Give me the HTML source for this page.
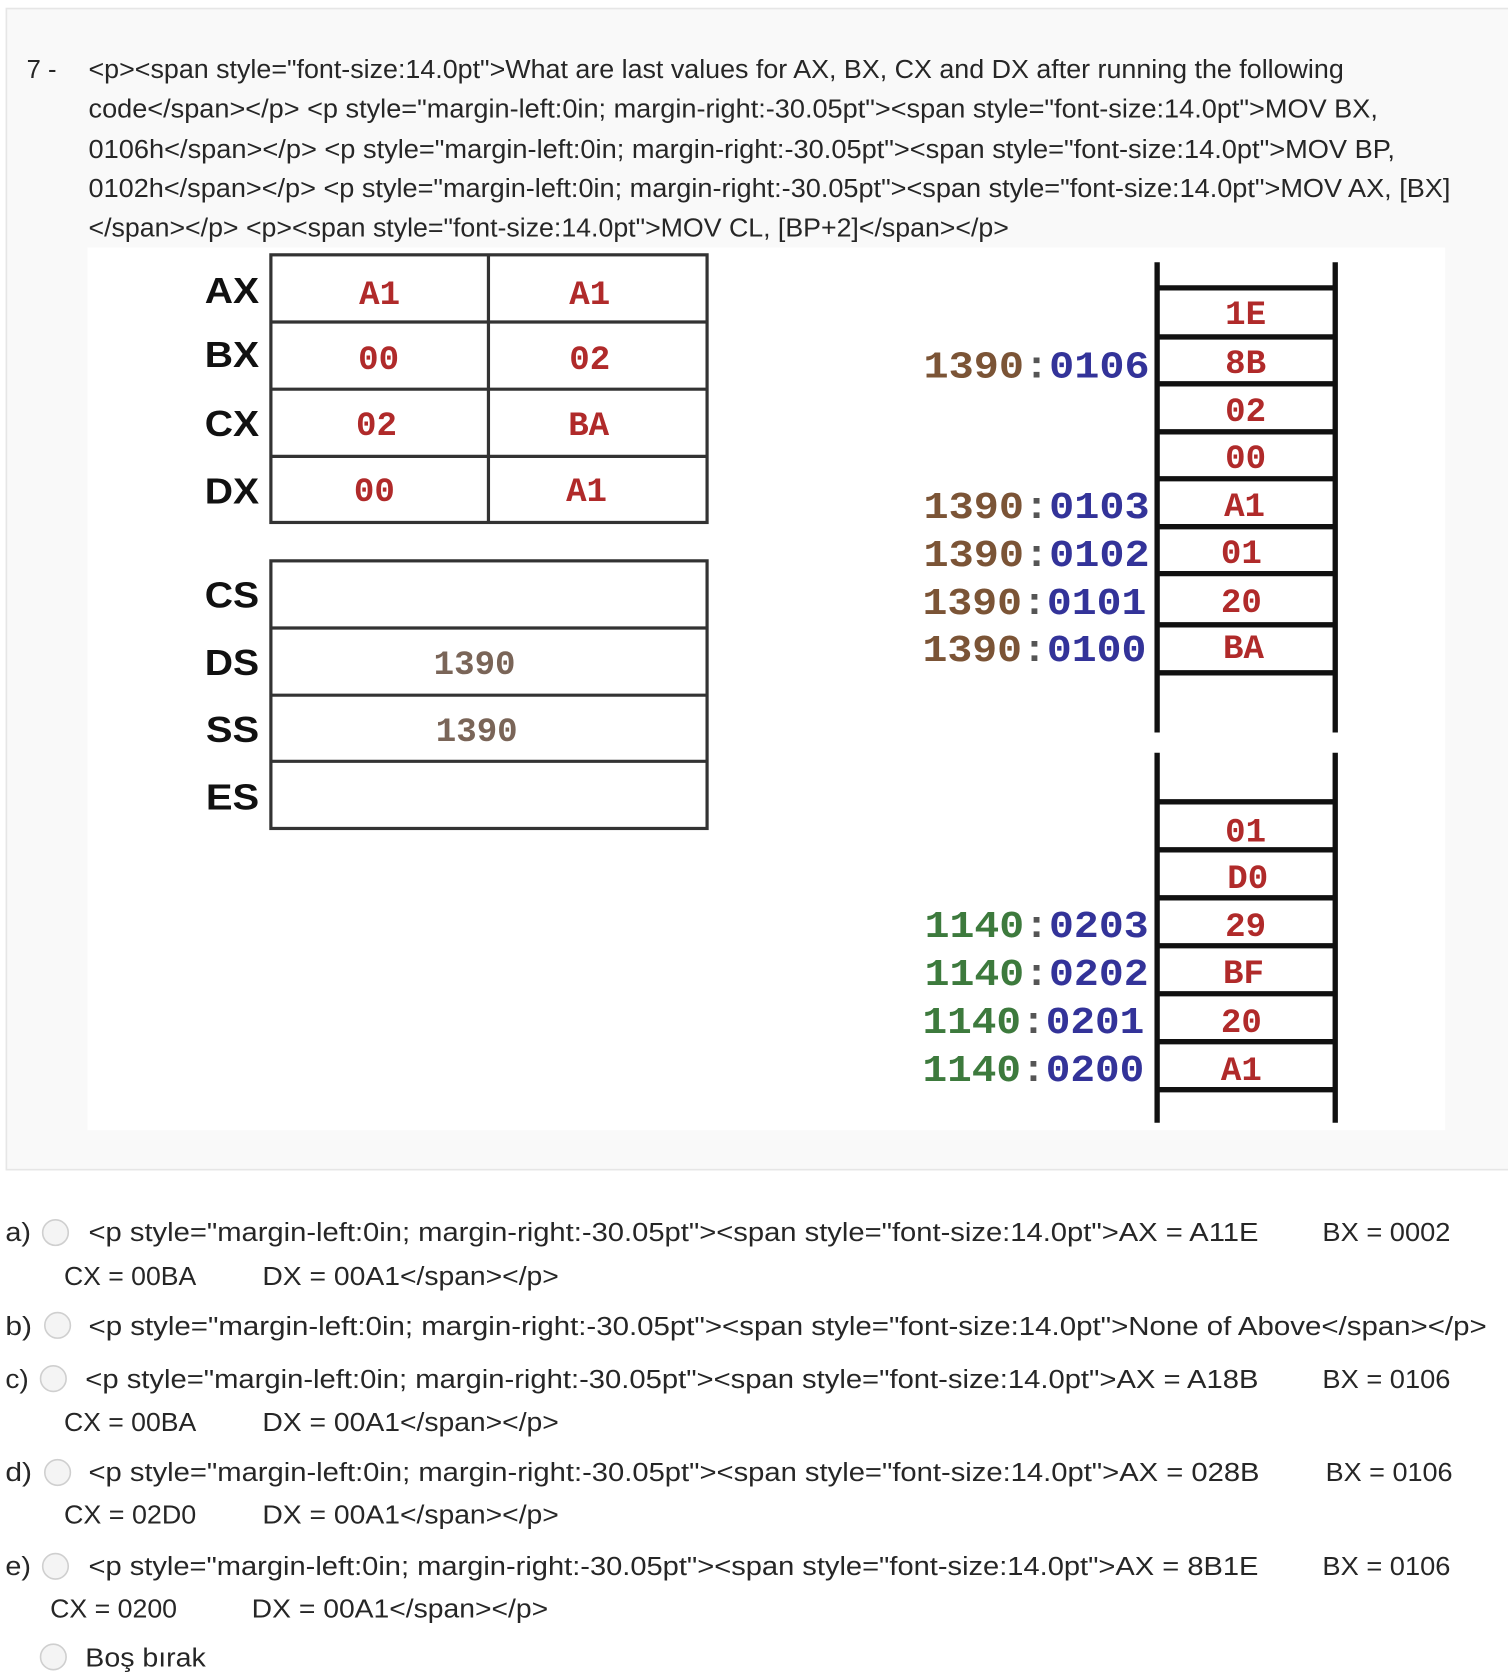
<!DOCTYPE html>
<html><head><meta charset="utf-8"><style>
html,body{margin:0;padding:0;background:#fff;}
svg{display:block}
.t{font-family:"Liberation Sans",sans-serif;font-size:24px;fill:#262626}
.lb{font-family:"Liberation Sans",sans-serif;font-weight:bold;font-size:34px;fill:#111}
.v{font-family:"Liberation Mono",monospace;font-weight:bold;font-size:32px;fill:#b02a2a}
.a{font-family:"Liberation Mono",monospace;font-weight:bold;font-size:36px}
</style></head><body>
<svg width="1508" height="1674" viewBox="0 0 1414 1570" preserveAspectRatio="none" xmlns="http://www.w3.org/2000/svg">
<rect x="6" y="8" width="1420" height="1089" fill="#f9f9f9" stroke="#e6e6e6" stroke-width="1.5"/>
<rect x="82" y="232" width="1273" height="828" fill="#fff"/>

<text class="t" x="25" y="73">7 -</text>
<text class="t" x="83" y="73" textLength="1177" lengthAdjust="spacingAndGlyphs">&lt;p&gt;&lt;span style="font-size:14.0pt"&gt;What are last values for AX, BX, CX and DX after running the following</text>
<text class="t" x="83" y="110" textLength="1209" lengthAdjust="spacingAndGlyphs">code&lt;/span&gt;&lt;/p&gt; &lt;p style="margin-left:0in; margin-right:-30.05pt"&gt;&lt;span style="font-size:14.0pt"&gt;MOV BX,</text>
<text class="t" x="83" y="148" textLength="1225" lengthAdjust="spacingAndGlyphs">0106h&lt;/span&gt;&lt;/p&gt; &lt;p style="margin-left:0in; margin-right:-30.05pt"&gt;&lt;span style="font-size:14.0pt"&gt;MOV BP,</text>
<text class="t" x="83" y="185" textLength="1277" lengthAdjust="spacingAndGlyphs">0102h&lt;/span&gt;&lt;/p&gt; &lt;p style="margin-left:0in; margin-right:-30.05pt"&gt;&lt;span style="font-size:14.0pt"&gt;MOV AX, [BX]</text>
<text class="t" x="83" y="222" textLength="863" lengthAdjust="spacingAndGlyphs">&lt;/span&gt;&lt;/p&gt; &lt;p&gt;&lt;span style="font-size:14.0pt"&gt;MOV CL, [BP+2]&lt;/span&gt;&lt;/p&gt;</text>

<g stroke="#333" stroke-width="3" fill="none">
<rect x="254" y="239" width="409" height="251"/>
<line x1="254" y1="302" x2="663" y2="302"/><line x1="254" y1="365" x2="663" y2="365"/><line x1="254" y1="428" x2="663" y2="428"/>
<line x1="458" y1="239" x2="458" y2="490"/>
<rect x="254" y="526" width="409" height="251"/>
<line x1="254" y1="589" x2="663" y2="589"/><line x1="254" y1="652" x2="663" y2="652"/><line x1="254" y1="714" x2="663" y2="714"/>
</g>
<g class="lb">
<text x="192" y="284" textLength="51" lengthAdjust="spacingAndGlyphs">AX</text><text x="192" y="344" textLength="51" lengthAdjust="spacingAndGlyphs">BX</text><text x="192" y="409" textLength="51" lengthAdjust="spacingAndGlyphs">CX</text><text x="192" y="472" textLength="51" lengthAdjust="spacingAndGlyphs">DX</text>
<text x="192" y="570" textLength="51" lengthAdjust="spacingAndGlyphs">CS</text><text x="192" y="633" textLength="51" lengthAdjust="spacingAndGlyphs">DS</text><text x="193" y="696" textLength="50" lengthAdjust="spacingAndGlyphs">SS</text><text x="193" y="759" textLength="50" lengthAdjust="spacingAndGlyphs">ES</text>
</g>
<g class="v" text-anchor="middle">
<text x="356" y="285">A1</text><text x="553" y="285">A1</text>
<text x="355" y="346">00</text><text x="553" y="346">02</text>
<text x="353" y="408">02</text><text x="552" y="408">BA</text>
<text x="351" y="470">00</text><text x="550" y="470">A1</text>
<text x="445" y="632" style="fill:#7a6558">1390</text>
<text x="447" y="695" style="fill:#7a6558">1390</text>
</g>

<g stroke="#111" stroke-width="5">
<line x1="1085" y1="246" x2="1085" y2="687"/><line x1="1252" y1="246" x2="1252" y2="687"/>
<line x1="1085" y1="270" x2="1252" y2="270"/><line x1="1085" y1="316" x2="1252" y2="316"/>
<line x1="1085" y1="360" x2="1252" y2="360"/><line x1="1085" y1="405" x2="1252" y2="405"/>
<line x1="1085" y1="449" x2="1252" y2="449"/><line x1="1085" y1="494" x2="1252" y2="494"/>
<line x1="1085" y1="538" x2="1252" y2="538"/><line x1="1085" y1="586" x2="1252" y2="586"/>
<line x1="1085" y1="631" x2="1252" y2="631"/>
</g>
<g class="v" text-anchor="middle">
<text x="1168" y="304">1E</text><text x="1168" y="350">8B</text><text x="1168" y="395">02</text><text x="1168" y="439">00</text>
<text x="1167" y="484">A1</text><text x="1164" y="528">01</text><text x="1164" y="574">20</text><text x="1166" y="617">BA</text>
</g>
<g class="a">
<text x="866" y="354" textLength="212" lengthAdjust="spacingAndGlyphs"><tspan fill="#7b5436">1390</tspan><tspan fill="#555">:</tspan><tspan fill="#333399">0106</tspan></text>
<text x="866" y="486" textLength="212" lengthAdjust="spacingAndGlyphs"><tspan fill="#7b5436">1390</tspan><tspan fill="#555">:</tspan><tspan fill="#333399">0103</tspan></text>
<text x="866" y="531" textLength="212" lengthAdjust="spacingAndGlyphs"><tspan fill="#7b5436">1390</tspan><tspan fill="#555">:</tspan><tspan fill="#333399">0102</tspan></text>
<text x="865" y="576" textLength="210" lengthAdjust="spacingAndGlyphs"><tspan fill="#7b5436">1390</tspan><tspan fill="#555">:</tspan><tspan fill="#333399">0101</tspan></text>
<text x="865" y="620" textLength="210" lengthAdjust="spacingAndGlyphs"><tspan fill="#7b5436">1390</tspan><tspan fill="#555">:</tspan><tspan fill="#333399">0100</tspan></text>
</g>

<g stroke="#111" stroke-width="5">
<line x1="1085" y1="706" x2="1085" y2="1053"/><line x1="1252" y1="706" x2="1252" y2="1053"/>
<line x1="1085" y1="752" x2="1252" y2="752"/><line x1="1085" y1="797" x2="1252" y2="797"/>
<line x1="1085" y1="842" x2="1252" y2="842"/><line x1="1085" y1="887" x2="1252" y2="887"/>
<line x1="1085" y1="932" x2="1252" y2="932"/><line x1="1085" y1="977" x2="1252" y2="977"/>
<line x1="1085" y1="1022" x2="1252" y2="1022"/>
</g>
<g class="v" text-anchor="middle">
<text x="1168" y="789">01</text><text x="1170" y="833">D0</text><text x="1168" y="878">29</text>
<text x="1166" y="922">BF</text><text x="1164" y="968">20</text><text x="1164" y="1013">A1</text>
</g>
<g class="a">
<text x="867" y="879" textLength="210" lengthAdjust="spacingAndGlyphs"><tspan fill="#3d7a3d">1140</tspan><tspan fill="#555">:</tspan><tspan fill="#333399">0203</tspan></text>
<text x="867" y="924" textLength="210" lengthAdjust="spacingAndGlyphs"><tspan fill="#3d7a3d">1140</tspan><tspan fill="#555">:</tspan><tspan fill="#333399">0202</tspan></text>
<text x="865" y="969" textLength="208" lengthAdjust="spacingAndGlyphs"><tspan fill="#3d7a3d">1140</tspan><tspan fill="#555">:</tspan><tspan fill="#333399">0201</tspan></text>
<text x="865" y="1014" textLength="208" lengthAdjust="spacingAndGlyphs"><tspan fill="#3d7a3d">1140</tspan><tspan fill="#555">:</tspan><tspan fill="#333399">0200</tspan></text>
</g>

<g fill="#f4f4f4" stroke="#cfcfcf" stroke-width="1.5">
<circle cx="52" cy="1156" r="12"/><circle cx="54" cy="1243" r="12"/><circle cx="50" cy="1293" r="12"/>
<circle cx="54" cy="1381" r="12"/><circle cx="52" cy="1469" r="12"/><circle cx="50" cy="1554" r="12"/>
</g>
<g class="t">
<text x="5" y="1164" textLength="24" lengthAdjust="spacingAndGlyphs">a)</text>
<text x="83" y="1164" textLength="1097" lengthAdjust="spacingAndGlyphs">&lt;p style="margin-left:0in; margin-right:-30.05pt"&gt;&lt;span style="font-size:14.0pt"&gt;AX = A11E</text>
<text x="1240" y="1164" textLength="120" lengthAdjust="spacingAndGlyphs">BX = 0002</text>
<text x="60" y="1205" textLength="124" lengthAdjust="spacingAndGlyphs">CX = 00BA</text>
<text x="246" y="1205" textLength="278" lengthAdjust="spacingAndGlyphs">DX = 00A1&lt;/span&gt;&lt;/p&gt;</text>

<text x="5" y="1252" textLength="25" lengthAdjust="spacingAndGlyphs">b)</text>
<text x="83" y="1252" textLength="1311" lengthAdjust="spacingAndGlyphs">&lt;p style="margin-left:0in; margin-right:-30.05pt"&gt;&lt;span style="font-size:14.0pt"&gt;None of Above&lt;/span&gt;&lt;/p&gt;</text>

<text x="5" y="1302" textLength="22" lengthAdjust="spacingAndGlyphs">c)</text>
<text x="80" y="1302" textLength="1100" lengthAdjust="spacingAndGlyphs">&lt;p style="margin-left:0in; margin-right:-30.05pt"&gt;&lt;span style="font-size:14.0pt"&gt;AX = A18B</text>
<text x="1240" y="1302" textLength="120" lengthAdjust="spacingAndGlyphs">BX = 0106</text>
<text x="60" y="1342" textLength="124" lengthAdjust="spacingAndGlyphs">CX = 00BA</text>
<text x="246" y="1342" textLength="278" lengthAdjust="spacingAndGlyphs">DX = 00A1&lt;/span&gt;&lt;/p&gt;</text>

<text x="5" y="1389" textLength="25" lengthAdjust="spacingAndGlyphs">d)</text>
<text x="83" y="1389" textLength="1098" lengthAdjust="spacingAndGlyphs">&lt;p style="margin-left:0in; margin-right:-30.05pt"&gt;&lt;span style="font-size:14.0pt"&gt;AX = 028B</text>
<text x="1243" y="1389" textLength="119" lengthAdjust="spacingAndGlyphs">BX = 0106</text>
<text x="60" y="1429" textLength="124" lengthAdjust="spacingAndGlyphs">CX = 02D0</text>
<text x="246" y="1429" textLength="278" lengthAdjust="spacingAndGlyphs">DX = 00A1&lt;/span&gt;&lt;/p&gt;</text>

<text x="5" y="1477" textLength="24" lengthAdjust="spacingAndGlyphs">e)</text>
<text x="83" y="1477" textLength="1097" lengthAdjust="spacingAndGlyphs">&lt;p style="margin-left:0in; margin-right:-30.05pt"&gt;&lt;span style="font-size:14.0pt"&gt;AX = 8B1E</text>
<text x="1240" y="1477" textLength="120" lengthAdjust="spacingAndGlyphs">BX = 0106</text>
<text x="47" y="1517" textLength="119" lengthAdjust="spacingAndGlyphs">CX = 0200</text>
<text x="236" y="1517" textLength="278" lengthAdjust="spacingAndGlyphs">DX = 00A1&lt;/span&gt;&lt;/p&gt;</text>

<text x="80" y="1563" textLength="113" lengthAdjust="spacingAndGlyphs">Boş bırak</text>
</g>
</svg>
</body></html>
